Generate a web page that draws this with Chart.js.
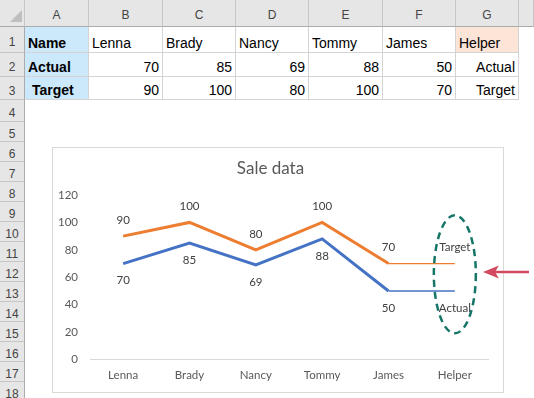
<!DOCTYPE html>
<html lang="en">
<head>
<meta charset="UTF-8" />
<title>Sale data</title>
<script src="https://cdn.jsdelivr.net/npm/chart.js"></script>
<style>
  body { margin: 0; width: 534px; height: 398px; overflow: hidden; background: #fff; position: relative; font-family: 'Liberation Sans', Arial, sans-serif }
  .hd { position: absolute; box-sizing: border-box; background: #e6e6e6; color: #444; font-size: 12px; display: flex; align-items: center; justify-content: center }
  .cell { position: absolute; box-sizing: border-box; font-size: 14px; color: #000; white-space: pre; display: flex; align-items: flex-end; padding: 0 3px 1px 3px; border-right: 1px solid #d4d4d4; border-bottom: 1px solid #d4d4d4 }
  #box { position: absolute; left: 52px; top: 147px; width: 450px; height: 244px; border: 1px solid #d9d9d9; background: #fff }
  #arrow { position: absolute; left: 0; top: 0 }
</style>
</head>
<body>
  <div id="sheet"></div>
  <div id="box"><canvas id="chart" width="450" height="244"></canvas></div>
  <svg id="arrow" width="534" height="398">
    <line x1="529" y1="272" x2="492" y2="272" stroke="#d3495f" stroke-width="2.6" />
    <polygon points="483,272 499,265.5 495,272 499,278.5" fill="#d3495f" />
  </svg>

<script>
  // sheet data
  const names = ['Lenna', 'Brady', 'Nancy', 'Tommy', 'James'];
  const actual = [70, 85, 69, 88, 50];
  const target = [90, 100, 80, 100, 70];
  const seriesNames = ['Actual', 'Target'];
  const helperName = 'Helper';
  const yMin = 0, yMax = 120, yStep = 20;

  // grid geometry
  const colEdges = [0, 25, 89, 163, 236, 309, 383, 456, 519, 534];
  const rowEdges = [0, 27, 53, 77, 100, 122, 142];
  while (rowEdges.length < 21) rowEdges.push(rowEdges[rowEdges.length - 1] + 20);

  const sheet = document.getElementById('sheet');
  function addDiv(cls, x0, x1, y0, y1, text, css) {
    const d = document.createElement('div');
    d.className = cls;
    d.style.left = x0 + 'px'; d.style.top = y0 + 'px';
    d.style.width = (x1 - x0) + 'px'; d.style.height = (y1 - y0) + 'px';
    if (css) Object.assign(d.style, css);
    d.textContent = text;
    sheet.appendChild(d);
  }

  // corner + column headers
  addDiv('hd', 0, 25, 0, 27, '', { borderRight: '1px solid #c6c6c6', borderBottom: '1px solid #ababab' });
  const tri = document.createElement('div');
  Object.assign(tri.style, { position: 'absolute', left: '10px', top: '10px', width: 0, height: 0, borderLeft: '12px solid transparent', borderBottom: '12px solid #bfbfbf' });
  sheet.appendChild(tri);
  const letters = ['A', 'B', 'C', 'D', 'E', 'F', 'G', ''];
  for (let c = 1; c < colEdges.length - 1; c++) {
    addDiv('hd', colEdges[c], colEdges[c + 1], 0, 27, letters[c - 1], { borderRight: '1px solid #c6c6c6', borderBottom: '1px solid #ababab', paddingTop: '3px' });
  }
  // row headers
  for (let r = 1; r < rowEdges.length - 1; r++) {
    addDiv('hd', 0, 25, rowEdges[r], rowEdges[r + 1], String(r), { borderRight: '1px solid #ababab', borderBottom: '1px solid #c6c6c6', paddingTop: '5px' });
  }

  // cells rows 1-3
  const rows = [
    ['Name', ...names, helperName],
    [seriesNames[0], ...actual, seriesNames[0]],
    [' ' + seriesNames[1], ...target, seriesNames[1]]
  ];
  rows.forEach((row, r) => {
    row.forEach((v, c) => {
      const css = {};
      if (c === 0) { css.background = '#cce8fb'; css.fontWeight = 'bold'; }
      if (r === 0 && c === 6) css.background = '#fce4d6';
      if (r > 0 && c > 0) css.justifyContent = 'flex-end';
      addDiv('cell', colEdges[c + 1], colEdges[c + 2], rowEdges[r + 1], rowEdges[r + 2], String(v), css);
    });
  });

  // chart
  const labels = [...names, helperName];
  const lastIdx = names.length;

  const labelPlugin = {
    id: 'pointLabels',
    afterDatasetsDraw(chart) {
      const ctx = chart.ctx;
      ctx.save();
      ctx.font = '11.5px Lato';
      ctx.fillStyle = '#404040';
      ctx.textAlign = 'center';
      ctx.textBaseline = 'middle';
      chart.data.datasets.forEach((ds, di) => {
        const meta = chart.getDatasetMeta(di);
        const dy = ds.label === seriesNames[1] ? -16 : 17;
        meta.data.forEach((pt, i) => {
          const text = i === lastIdx ? ds.label : String(ds.data[i]);
          ctx.fillText(text, pt.x, pt.y + dy);
        });
      });
      // dashed ellipse round the helper labels
      const a = chart.getDatasetMeta(0).data[lastIdx];
      const t = chart.getDatasetMeta(1).data[lastIdx];
      ctx.beginPath();
      ctx.setLineDash([7, 5]);
      ctx.lineWidth = 2.5;
      ctx.strokeStyle = '#157567';
      ctx.ellipse(a.x, (a.y + t.y) / 2 - 3, 21, 59, 0, 0, Math.PI * 2);
      ctx.stroke();
      ctx.restore();
    }
  };

  const segWidth = c => c.p1DataIndex === lastIdx ? 1.3 : 3;

  new Chart(document.getElementById('chart'), {
    type: 'line',
    data: {
      labels: labels,
      datasets: [
        { label: seriesNames[0], data: [...actual, actual[lastIdx - 1]], borderColor: '#4472c4', borderWidth: 3, pointRadius: 0, segment: { borderWidth: segWidth } },
        { label: seriesNames[1], data: [...target, target[lastIdx - 1]], borderColor: '#ed7d31', borderWidth: 3, pointRadius: 0, segment: { borderWidth: segWidth } }
      ]
    },
    options: {
      responsive: false,
      animation: false,
      layout: { padding: { left: 0, right: 15, top: 0, bottom: 0.6 } },
      plugins: {
        legend: { display: false },
        tooltip: { enabled: false },
        title: { display: true, text: 'Sale data', color: '#595959', font: { family: 'Lato', size: 17, weight: 'normal' }, padding: { top: 10, bottom: 16.6 } }
      },
      scales: {
        x: {
          offset: true,
          grid: { display: false, drawTicks: false },
          border: { display: true, color: '#d9d9d9', width: 1 },
          ticks: { color: '#595959', font: { family: 'Lato', size: 11.5 }, padding: 9, maxRotation: 0 }
        },
        y: {
          min: yMin, max: yMax,
          grid: { display: false, drawTicks: false },
          border: { display: false },
          ticks: { stepSize: yStep, color: '#595959', font: { family: 'Lato', size: 11.5 }, padding: 12 },
          afterFit: s => { s.width = 37; }
        }
      }
    },
    plugins: [labelPlugin]
  });
</script>
</body>
</html>
